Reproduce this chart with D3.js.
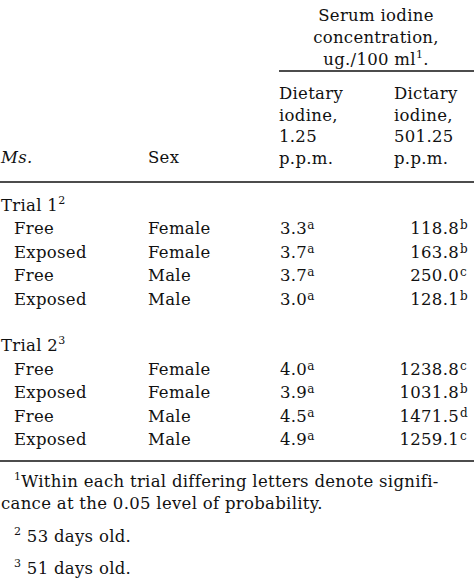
<!DOCTYPE html>
<html><head><meta charset="utf-8">
<script src="https://cdn.jsdelivr.net/npm/d3@7"></script>
<style>body{margin:0;background:#fff}text{font-family:"DejaVu Serif",serif;fill:#111;letter-spacing:0.3px}</style>
</head><body><svg id="t" width="474" height="580"></svg>
<script>
const trials = ["Trial 1", "Trial 2"];
const trialNotes = ["2", "3"];
const ms = ["Free", "Exposed", "Free", "Exposed"];
const sex = ["Female", "Female", "Male", "Male"];
const low = [[3.3, 3.7, 3.7, 3.0], [4.0, 3.9, 4.5, 4.9]];
const lowSig = [["a", "a", "a", "a"], ["a", "a", "a", "a"]];
const high = [[118.8, 163.8, 250.0, 128.1], [1238.8, 1031.8, 1471.5, 1259.1]];
const highSig = [["b", "b", "c", "b"], ["c", "b", "d", "c"]];

const svg = d3.select("#t");
const fs = 16.5;

// header
const head = svg.append("g");
["Serum iodine", "concentration,"].forEach((s, i) =>
  head.append("text").attr("x", 376).attr("y", 21 + i * 22).attr("text-anchor", "middle").attr("font-size", fs).text(s));
const ug = head.append("text").attr("x", 376).attr("y", 65).attr("text-anchor", "middle").attr("font-size", fs).text("ug./100 ml");
ug.append("tspan").attr("font-size", 11).attr("dy", -7).text("1");
ug.append("tspan").attr("dy", 7).text(".");
svg.append("line").attr("x1", 279).attr("x2", 474).attr("y1", 71).attr("y2", 71).attr("stroke", "#111").attr("stroke-width", 1.5);
[["Dietary", "iodine,", "1.25", "p.p.m."], ["Dictary", "iodine,", "501.25", "p.p.m."]].forEach((col, c) =>
  col.forEach((s, i) => head.append("text").attr("x", c ? 394 : 279).attr("y", 99 + i * 21.5).attr("font-size", fs).text(s)));
head.append("text").attr("x", 1).attr("y", 163).attr("font-size", fs).attr("font-style", "italic").text("Ms.");
head.append("text").attr("x", 148).attr("y", 163).attr("font-size", fs).text("Sex");
svg.append("line").attr("x1", 0).attr("x2", 474).attr("y1", 182).attr("y2", 182).attr("stroke", "#111").attr("stroke-width", 1.5);

// body rows
const y = d3.scaleLinear().domain([0, 1]).range([211, 212 + 22.4]);
trials.forEach((tr, t) => {
  const base = t * 6;
  const tt = svg.append("text").attr("x", 1).attr("y", y(base)).attr("font-size", fs).text(tr);
  tt.append("tspan").attr("font-size", 11).attr("dy", -7).text(trialNotes[t]);
  ms.forEach((m, i) => {
    const yy = y(base + 1 + i);
    svg.append("text").attr("x", 14).attr("y", yy).attr("font-size", fs).text(m);
    svg.append("text").attr("x", 148).attr("y", yy).attr("font-size", fs).text(sex[i]);
    const a = svg.append("text").attr("x", 280).attr("y", yy).attr("font-size", fs).text(d3.format(".1f")(low[t][i]));
    a.append("tspan").attr("font-size", 12).attr("dy", -5).text(lowSig[t][i]);
    svg.append("text").attr("x", 459).attr("y", yy).attr("text-anchor", "end").attr("font-size", fs).text(d3.format(".1f")(high[t][i]));
    svg.append("text").attr("x", 460).attr("y", yy - 5).attr("font-size", 12).text(highSig[t][i]);
  });
});
svg.append("line").attr("x1", 0).attr("x2", 474).attr("y1", 461).attr("y2", 461).attr("stroke", "#111").attr("stroke-width", 1.5);

// footnotes
const fn = (x, yy, sup, s) => {
  const e = svg.append("text").attr("x", x).attr("y", yy).attr("font-size", fs);
  if (sup) e.append("tspan").attr("font-size", 11).attr("dy", -7).text(sup);
  e.append("tspan").attr("dy", sup ? 7 : 0).text(s);
};
fn(14, 487, "1", "Within each trial differing letters denote signifi-");
fn(1, 509, "", "cance at the 0.05 level of probability.");
fn(14, 542, "2", " 53 days old.");
fn(14, 574, "3", " 51 days old.");
</script></body></html>
